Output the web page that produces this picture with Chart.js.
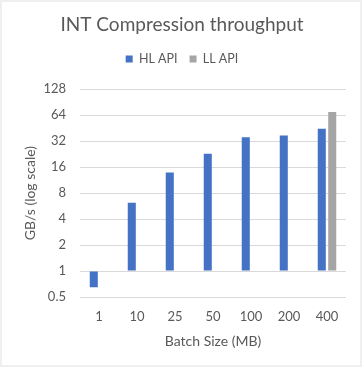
<!DOCTYPE html>
<html>
<head>
<meta charset="utf-8">
<script src="https://cdn.jsdelivr.net/npm/chart.js@4/dist/chart.umd.min.js"></script>
<style>
  html, body { margin: 0; padding: 0; background: #efefef; }
  #wrap { position: absolute; left: 2px; top: 2px; width: 358px; height: 363px; background: #fff; }
</style>
</head>
<body>
<div id="wrap"><canvas id="chart" width="358" height="363"></canvas></div>
<script>
// batch sizes (MB)
var batchSizes = ['1', '10', '25', '50', '100', '200', '400'];
// throughput GB/s
var hlApi = [0.65, 6.2, 13.9, 22.9, 35.6, 37.2, 44.7];
var llApi = [null, null, null, null, null, null, 70];
var yTicks = [0.5, 1, 2, 4, 8, 16, 32, 64, 128];

var textColor = '#595959';
var fontFamily = 'Lato, "Open Sans", sans-serif';

// extra room under the legend, like the excel chart
var legendGap = {
    id: 'legendGap',
    beforeInit: function (chart) {
        var fit = chart.legend.fit;
        chart.legend.fit = function () {
            fit.bind(chart.legend)();
            this.height += 14;
        };
    }
};

window.addEventListener('DOMContentLoaded', function () {
    var ctx = document.getElementById('chart').getContext('2d');
    new Chart(ctx, {
        type: 'bar',
        data: {
            labels: batchSizes,
            datasets: [{
                label: 'HL API',
                data: hlApi,
                backgroundColor: '#4472C4',
                base: 1
            }, {
                label: 'LL API',
                data: llApi,
                backgroundColor: '#A5A5A5',
                base: 1
            }]
        },
        options: {
            responsive: false,
            animation: false,
            categoryPercentage: 0.55,
            barPercentage: 0.77,
            layout: { padding: { left: 16, right: 14, top: 8, bottom: 15 } },
            plugins: {
                title: {
                    display: true,
                    text: 'INT Compression throughput',
                    color: textColor,
                    font: { family: fontFamily, size: 19, weight: 'normal' },
                    padding: { top: 3, bottom: 5 }
                },
                legend: {
                    labels: {
                        boxWidth: 7,
                        boxHeight: 7,
                        color: textColor,
                        font: { family: fontFamily, size: 12.5 },
                        padding: 12
                    }
                },
                tooltip: { enabled: false }
            },
            scales: {
                x: {
                    grid: { display: false, drawTicks: false },
                    border: { display: false },
                    ticks: { color: textColor, font: { family: fontFamily, size: 13 }, padding: 12 },
                    afterFit: function (scale) {
                        scale.height = 53;
                    },
                    title: {
                        display: true,
                        text: 'Batch Size (MB)',
                        color: textColor,
                        font: { family: fontFamily, size: 14 },
                        padding: { top: 4, bottom: 0 }
                    }
                },
                y: {
                    type: 'logarithmic',
                    min: 0.5,
                    max: 128,
                    afterBuildTicks: function (scale) {
                        scale.ticks = yTicks.map(function (v) { return { value: v }; });
                    },
                    afterFit: function (scale) {
                        scale.width = 62;
                    },
                    grid: { color: '#D9D9D9', drawTicks: false },
                    border: { display: false },
                    ticks: {
                        color: textColor,
                        font: { family: fontFamily, size: 13 },
                        padding: 14,
                        callback: function (v) { return String(v); }
                    },
                    title: {
                        display: true,
                        text: 'GB/s (log scale)',
                        color: textColor,
                        font: { family: fontFamily, size: 14 }
                    }
                }
            }
        },
        plugins: [legendGap]
    });
});
</script>
</body>
</html>
